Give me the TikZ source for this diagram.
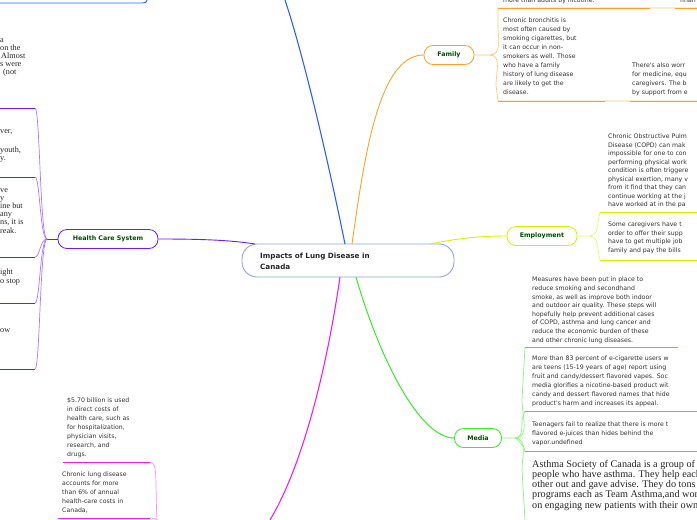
\documentclass[tikz,border=0pt]{standalone}
\usepackage{fontspec}
\setmainfont{Liberation Serif}
\newfontfamily\vsans{DejaVu Sans}
\begin{document}
\begin{tikzpicture}[x=1pt,y=-1pt,
  leaf/.style={anchor=north west,inner sep=0pt,align=left,text=black!80,font=\vsans\fontsize{6.2}{#1}\selectfont},
  sleaf/.style={anchor=north west,inner sep=0pt,align=left,text=black!85,font=\fontsize{#1}{#1}\selectfont},
  topic/.style={draw=#1,line width=0.8pt,rounded corners=9pt,fill=white,minimum height=19pt,inner sep=2pt,text=green!30!black,font=\vsans\bfseries\fontsize{6.3}{7}\selectfont}]
\useasboundingbox (0,0) rectangle (697,520);
\definecolor{cblue}{HTML}{2962FF}\definecolor{cpur}{HTML}{6A1BFF}\definecolor{cpurl}{HTML}{A77BFF}
\definecolor{corg}{HTML}{FFA11F}\definecolor{cyel}{HTML}{D8F000}\definecolor{cgrn}{HTML}{33EE22}\definecolor{cmag}{HTML}{F01FF0}
% central
\node[draw=cyan!40!blue!45,line width=0.9pt,rounded corners=15pt,minimum width=212pt,minimum height=33pt,fill=white] (c) at (348,260.5) {};
\node[anchor=west,align=left,inner sep=0pt,font=\vsans\bfseries\fontsize{7.2}{11}\selectfont,text=black!85] (ct) at (260,261) {Impacts of Lung Disease in\\Canada};
% branches
\coordinate (ctop) at (345,244);
\coordinate (btop) at (285,0);
\draw[cblue,line width=1.1pt] (ctop) .. controls (330,170) and (305,60) .. (btop);
\draw[cblue,line width=0.9pt] (0,3) -- (143,3) to[out=0,in=-70] (147,0);
\node[topic=corg,minimum width=50pt] (fam) at (449,55) {Family};
\draw[corg,line width=0.9pt] (352,244) .. controls (365,150) and (380,55) .. (fam.west);
\node[topic=cyel,minimum width=70pt] (emp) at (542,236) {Employment};
\draw[cyel,line width=0.9pt] (430,244) .. controls (460,238) and (480,236) .. (emp.west);
\node[topic=cgrn,minimum width=47pt] (med) at (478,438) {Media};
\draw[cgrn,line width=1pt] (356,277) .. controls (380,360) and (420,438) .. (med.west);
\node[topic=cpur,minimum width=100pt] (hcs) at (108,239) {Health Care System};
\draw[cpur,line width=0.9pt] (hcs.east) .. controls (200,239) and (230,240) .. (255,244);
\coordinate (mbot) at (270,520);
\draw[cmag,line width=1.1pt] (340,277) .. controls (325,380) and (300,470) .. (mbot);
% Family leaves
\coordinate (fh) at (490,55);
\draw[corg!60,line width=0.7pt] (fam.east) -- (fh) to[out=0,in=-90] (498,25) -- (498,8) -- (697,8);
\draw[corg!60,line width=0.7pt] (fh) to[out=0,in=90] (496,85) -- (498,101) -- (697,101);
\draw[corg,line width=0.9pt] (498,8) -- (650,8) (675,8) -- (697,8) (498,101) -- (605,101) (630,101) -- (697,101);
\node[leaf=9] (f0) at (503,-2) {more than adults by nicotine.};
\node[leaf=9] (f0b) at (680,-2) {finan};
\node[leaf=9] (f1) at (503,18) {Chronic bronchitis is\\most often caused by\\smoking cigarettes, but\\it can occur in non-\\smokers as well. Those\\who have a family\\history of lung disease\\are likely to get the\\disease.};
\node[leaf=9] (f2) at (632,63) {There's also worr\\for medicine, equ\\caregivers. The b\\by support from e};
% Employment leaves
\coordinate (eh) at (590,236);
\draw[cyel!60,line width=0.7pt] (emp.east) -- (eh) to[out=0,in=-90] (598,222) -- (600,212);
\draw[cyel!60,line width=0.7pt] (eh) to[out=0,in=90] (598,250) -- (600,260);
\draw[cyel,line width=0.9pt] (600,212) -- (697,212) (600,260) -- (697,260);
\node[leaf=8.5] (e1) at (608,134) {Chronic Obstructive Pulm\\Disease (COPD) can mak\\impossible for one to con\\performing physical work\\condition is often triggere\\physical exertion, many v\\from it find that they can\\continue working at the j\\have worked at in the pa};
\node[leaf=8.5] (e2) at (608,222) {Some caregivers have t\\order to offer their supp\\have to get multiple job\\family and pay the bills};
% Media leaves
\coordinate (mh) at (515,438);
\draw[cgrn!60,line width=0.7pt] (med.east) -- (mh) to[out=0,in=-90] (522,400) -- (525,347);
\draw[cgrn!60,line width=0.7pt] (mh) to[out=0,in=-90] (522,420) -- (525,411);
\draw[cgrn!60,line width=0.7pt] (mh) to[out=0,in=-90] (523,445) -- (525,451);
\draw[cgrn!60,line width=0.7pt] (mh) to[out=0,in=90] (522,470) -- (525,520);
\draw[cgrn,line width=0.9pt] (525,347) -- (678,347) (525,411) -- (697,411) (525,451) -- (697,451);
\node[leaf=8.6] (m1) at (532,277) {Measures have been put in place to\\reduce smoking and secondhand\\smoke, as well as improve both indoor\\and outdoor air quality. These steps will\\hopefully help prevent additional cases\\of COPD, asthma and lung cancer and\\reduce the economic burden of these\\and other chronic lung diseases.};
\node[leaf=9] (m2) at (532,356) {More than 83 percent of e-cigarette users w\\are teens (15-19 years of age) report using\\fruit and candy/dessert flavored vapes. Soc\\media glorifies a nicotine-based product wit\\candy and dessert flavored names that hide\\product's harm and increases its appeal.};
\node[leaf=9] (m3) at (532,422) {Teenagers fail to realize that there is more t\\flavored e-juices than hides behind the\\vapor.undefined};
\node[sleaf=10.2] (m4) at (532,460) {Asthma Society of Canada is a group of\\people who have asthma. They help each\\other out and gave advise. They do tons c\\programs each as Team Asthma,and work\\on engaging new patients with their own};
% Health care leaves
\coordinate (hh) at (47,239);
\draw[cpur,line width=0.9pt] (hcs.west) -- (hh);
\foreach \y in {108,177,257,303,369}{
  \draw[cpurl,line width=0.7pt] (hh) .. controls (40,239) and (40,\y) .. (35,\y);
  \draw[cpur,line width=0.9pt] (0,\y) -- (35,\y);}
\node[sleaf=8.2] (t1) at (0,38) {a\\on the\\\hspace*{1pt}Almost\\s were\\\hspace*{3pt}(not};
\node[sleaf=8.2] (t2) at (0,129) {ver,\\[3pt]\\youth,\\y.};
\node[sleaf=8.2] (t3) at (0,188) {ve\\y\\ine but\\any\\ns, it is\\reak.};
\node[sleaf=8.2] (t4) at (0,269) {ight\\o stop};
\node[sleaf=8.2] (t5) at (0,328) {ow};
% Magenta leaves
\coordinate (gh) at (157,520);
\draw[cmag!50,line width=0.7pt] (gh) .. controls (155,480) and (158,462) .. (150,462);
\draw[cmag!50,line width=0.7pt] (gh) .. controls (156,519) and (154,518) .. (150,518);
\draw[cmag,line width=0.9pt] (63,462) -- (150,462) (58,518) -- (150,518);
\node[leaf=9] (g1) at (67,398) {\$5.70 billion is used\\in direct costs of\\health care, such as\\for hospitalization,\\physician visits,\\research, and\\drugs.};
\node[leaf=9] (g2) at (62,472) {Chronic lung disease\\accounts for more\\than 6\% of annual\\health-care costs in\\Canada,};
\end{tikzpicture}
\end{document}
